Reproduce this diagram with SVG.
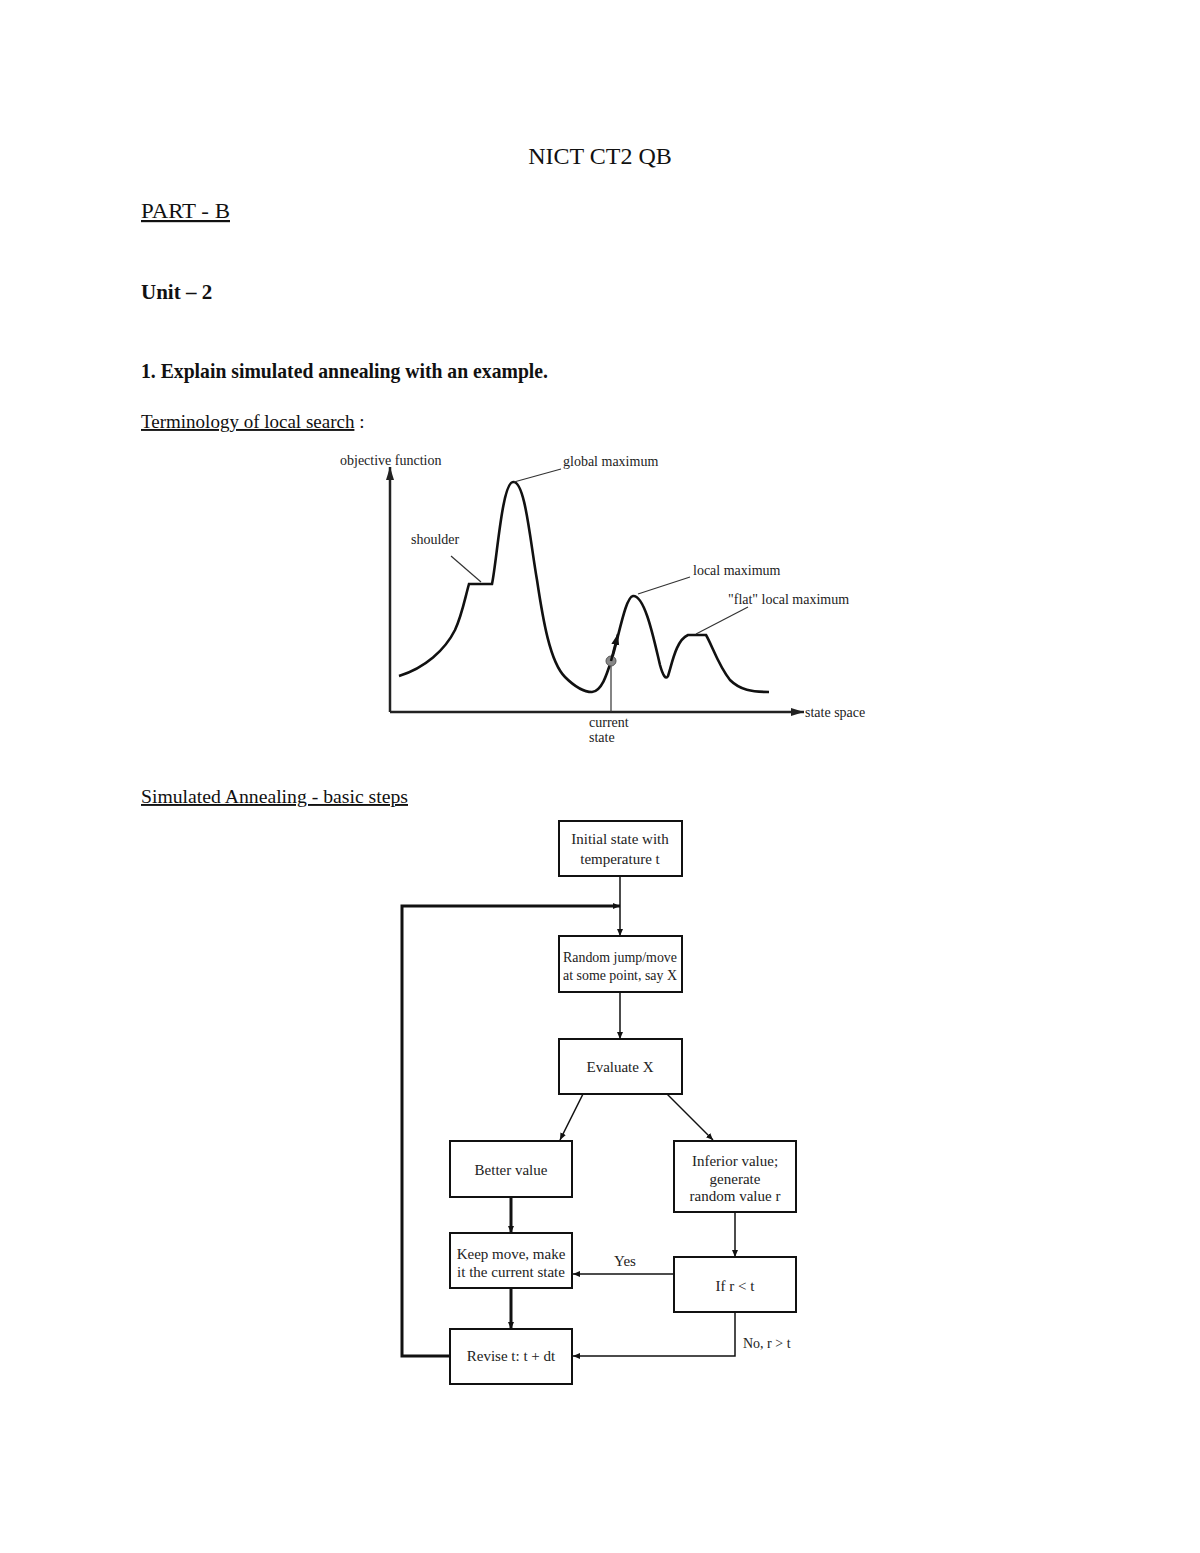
<svg xmlns="http://www.w3.org/2000/svg" width="1200" height="1553" viewBox="0 0 1200 1553">
<style>
.h{font-family:"Liberation Serif","Times New Roman",serif;fill:#111}
.g{font-family:"Liberation Serif","Times New Roman",serif;font-size:14px;fill:#222}
.f{font-family:"Liberation Serif","Times New Roman",serif;font-size:15px;fill:#222;text-anchor:middle}
.box{fill:#fff;stroke:#111;stroke-width:2}
.c{fill:none;stroke:#111;stroke-width:1.5}
.t{fill:none;stroke:#111;stroke-width:3}
.ax{fill:none;stroke:#222;stroke-width:2.5}
.ld{fill:none;stroke:#333;stroke-width:1.2}
</style>
<defs>
<marker id="ah" markerUnits="userSpaceOnUse" markerWidth="8" markerHeight="8" refX="7" refY="4" orient="auto">
<path d="M0,1 L7,4 L0,7 Z" fill="#111"/>
</marker>
<marker id="axh" markerUnits="userSpaceOnUse" markerWidth="14" markerHeight="10" refX="13" refY="5" orient="auto">
<path d="M0,1 L13,5 L0,9 Z" fill="#222"/>
</marker>
<marker id="cur" markerUnits="userSpaceOnUse" markerWidth="12" markerHeight="10" refX="11" refY="5" orient="auto">
<path d="M0,1 L11,5 L0,9 Z" fill="#111"/>
</marker>
</defs>
<rect width="1200" height="1553" fill="#fff"/>

<g id="header">
<text class="h" x="600" y="164" font-size="24" text-anchor="middle">NICT CT2 QB</text>
<text class="h" x="141" y="218" font-size="22" text-decoration="underline" textLength="89" lengthAdjust="spacingAndGlyphs">PART - B</text>
<text class="h" x="141" y="299" font-size="21" font-weight="bold">Unit – 2</text>
<text class="h" x="141" y="378" font-size="21" font-weight="bold" textLength="407" lengthAdjust="spacingAndGlyphs">1. Explain simulated annealing with an example.</text>
<text class="h" x="141" y="428" font-size="19"><tspan text-decoration="underline">Terminology of local search</tspan> :</text>
<text class="h" x="141" y="803" font-size="19" text-decoration="underline" textLength="267" lengthAdjust="spacingAndGlyphs">Simulated Annealing - basic steps</text>
</g>

<g id="landscape">
<path class="ax" d="M390,712 V467" marker-end="url(#axh)"/>
<path class="ax" d="M390,712 H804" marker-end="url(#axh)"/>
<path fill="none" stroke="#111" stroke-width="2.6" d="M399,676 C425,668 445,650 455,630 C462,615 465,598 469,584 L492,584 C497,560 502,483 513,482 C525,480 530,540 537,580 C543,620 550,662 565,677 C575,687 585,692 592,692 C603,691 608,670 613,655 C620,630 626,597 633,596 C645,595 654,640 660,665 C663,676 666,680 668,676 C672,664 676,640 688,635 L706,635 C712,645 718,665 730,680 C740,690 752,692 769,692"/>
<line class="ld" x1="514" y1="482" x2="561" y2="469"/>
<line class="ld" x1="451" y1="556" x2="481" y2="582"/>
<line class="ld" x1="638" y1="594" x2="690" y2="577"/>
<line class="ld" x1="696" y1="634" x2="748" y2="607"/>
<line stroke="#333" stroke-width="1.2" x1="611" y1="712" x2="611" y2="666"/>
<circle cx="611" cy="661" r="5" fill="#888" stroke="#555" stroke-width="1"/>
<path d="M611,661 L618,634" stroke="#111" stroke-width="2.5" marker-end="url(#cur)" fill="none"/>
<text class="g" x="340" y="465">objective function</text>
<text class="g" x="563" y="466">global maximum</text>
<text class="g" x="411" y="544">shoulder</text>
<text class="g" x="693" y="575">local maximum</text>
<text class="g" x="728" y="604">"flat" local maximum</text>
<text class="g" x="805" y="717">state space</text>
<text class="g" x="589" y="727">current</text>
<text class="g" x="589" y="742">state</text>
</g>

<g id="connectors">
<path class="c" d="M620,876 V936" marker-end="url(#ah)"/>
<path class="t" d="M450,1356 H402 V906 H620" marker-end="url(#ah)"/>
<path class="c" d="M620,992 V1039" marker-end="url(#ah)"/>
<path class="c" d="M583,1094 L560,1140" marker-end="url(#ah)"/>
<path class="c" d="M667,1094 L713,1140" marker-end="url(#ah)"/>
<path class="t" d="M511,1197 V1233" marker-end="url(#ah)"/>
<path class="t" d="M511,1288 V1329" marker-end="url(#ah)"/>
<path class="c" d="M735,1212 V1257" marker-end="url(#ah)"/>
<path class="c" d="M673,1274 H573" marker-end="url(#ah)"/>
<path class="c" d="M735,1312 V1356 H573" marker-end="url(#ah)"/>
<text class="f" x="625" y="1266">Yes</text>
<text class="g" x="743" y="1348" font-size="15">No, r &gt; t</text>
</g>

<g id="n1"><rect class="box" x="559" y="821" width="123" height="55"/>
<text class="f" x="620" y="844">Initial state with</text><text class="f" x="620" y="864">temperature t</text></g>
<g id="n2"><rect class="box" x="559" y="936" width="123" height="56"/>
<text class="f" x="620" y="962" textLength="114" lengthAdjust="spacingAndGlyphs">Random jump/move</text><text class="f" x="620" y="980" textLength="114" lengthAdjust="spacingAndGlyphs">at some point, say X</text></g>
<g id="n3"><rect class="box" x="559" y="1039" width="123" height="55"/>
<text class="f" x="620" y="1072">Evaluate X</text></g>
<g id="n4"><rect class="box" x="450" y="1141" width="122" height="56"/>
<text class="f" x="511" y="1175">Better value</text></g>
<g id="n5"><rect class="box" x="674" y="1141" width="122" height="71"/>
<text class="f" x="735" y="1166">Inferior value;</text><text class="f" x="735" y="1184">generate</text><text class="f" x="735" y="1201">random value r</text></g>
<g id="n6"><rect class="box" x="450" y="1233" width="122" height="55"/>
<text class="f" x="511" y="1259">Keep move, make</text><text class="f" x="511" y="1277">it the current state</text></g>
<g id="n7"><rect class="box" x="674" y="1257" width="122" height="55"/>
<text class="f" x="735" y="1291">If r &lt; t</text></g>
<g id="n8"><rect class="box" x="450" y="1329" width="122" height="55"/>
<text class="f" x="511" y="1361">Revise t: t + dt</text></g>
</svg>
